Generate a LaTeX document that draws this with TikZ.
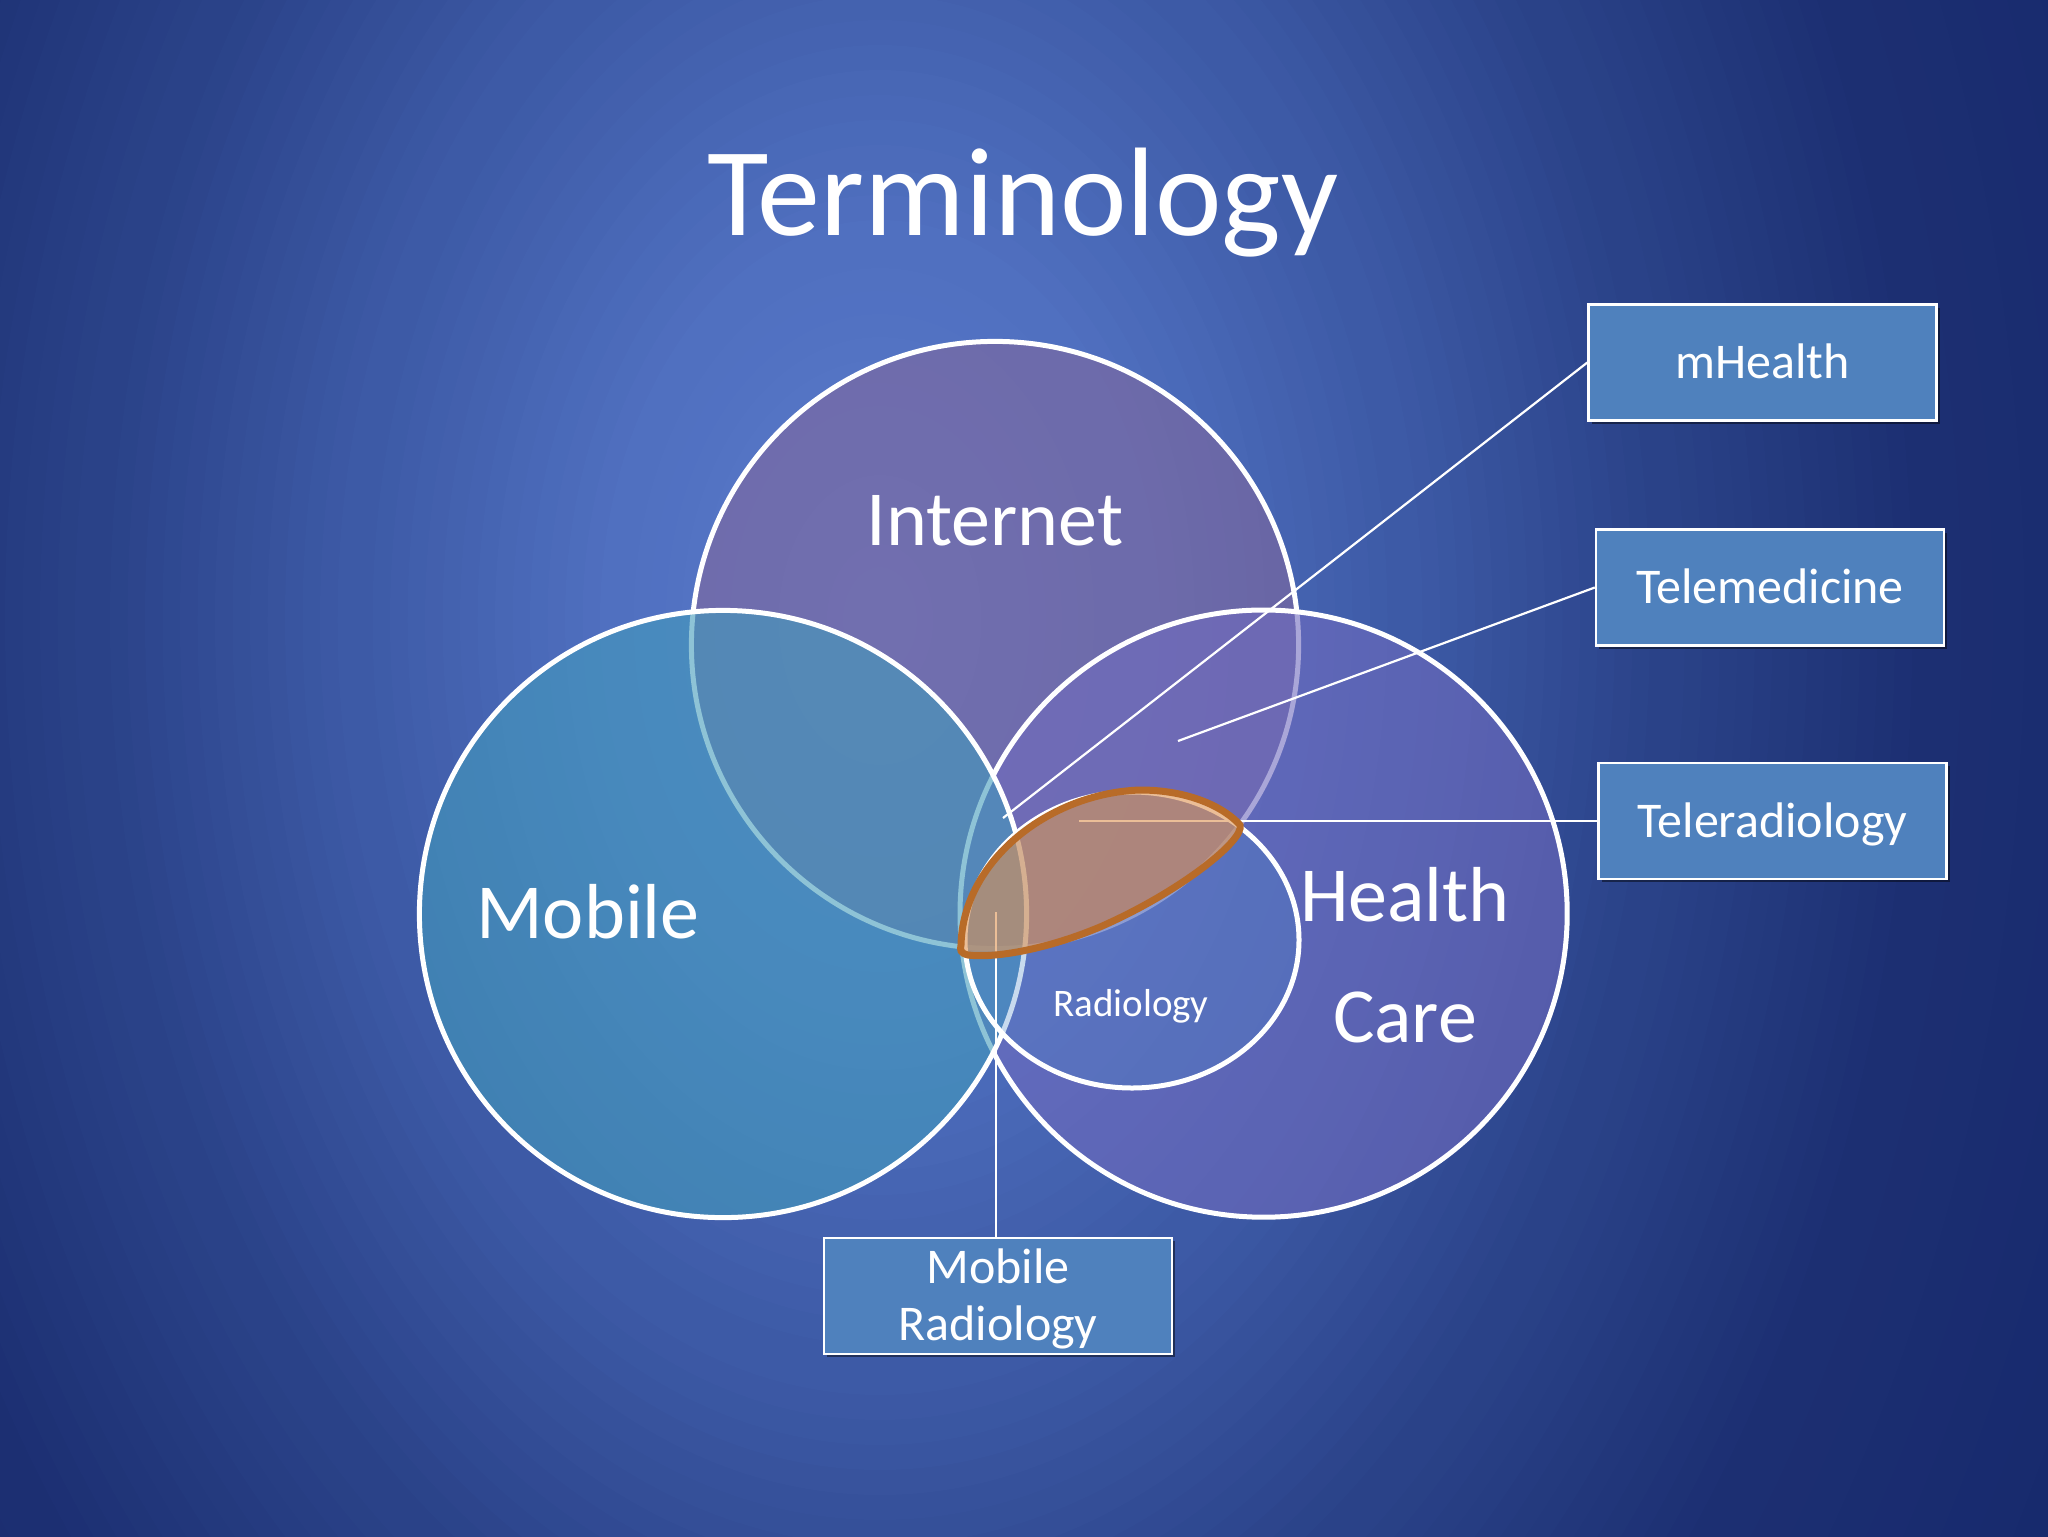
\documentclass[tikz,border=0pt]{standalone}
\usepackage{fontspec}
\setmainfont{Carlito}
\usetikzlibrary{shadows}
\definecolor{bgA}{HTML}{5A7ACB}
\definecolor{bgB}{HTML}{5070C0}
\definecolor{bgC}{HTML}{3D5AA6}
\definecolor{bgE}{HTML}{2A4288}
\definecolor{bgF}{HTML}{1C2F72}
\definecolor{bgG}{HTML}{14266A}
\definecolor{cInt}{HTML}{81689D}
\definecolor{cHC}{HTML}{706BBE}
\definecolor{cMob}{HTML}{439BBC}
\definecolor{cRad}{HTML}{4A86C8}
\definecolor{cLeaf}{HTML}{DF9353}
\definecolor{cLeafLine}{HTML}{B86B28}
\definecolor{cBox}{HTML}{4F81BD}
% concentric elliptic bands: #1 outer t, #2 inner t, #3 outer colour, #4 inner colour
\newcommand\bggradseg[4]{%
  \foreach \j in {0,...,14}{%
    \pgfmathsetmacro\gtx{(#1-(#1-#2)*\j/15)*525}%
    \pgfmathsetmacro\gty{(#1-(#1-#2)*\j/15)*750}%
    \pgfmathsetmacro\gpc{100*\j/14}%
    \fill[#4!\gpc!#3] (880,620) ellipse [x radius=\gtx pt, y radius=\gty pt];
  }}
\begin{document}
\begin{tikzpicture}[x=0.5pt,y=-0.5pt,
  circ/.style={draw=white, line width=2.5pt, fill opacity=0.6},
  conn/.style={draw=white, line width=1.1pt},
  box/.style={draw=white, line width=1.2pt, fill=cBox, minimum width=174pt, minimum height=58pt,
    inner sep=0pt, text=white, font=\fontsize{25}{28.5}\selectfont, text height=16.1pt, text depth=0pt,
    drop shadow={shadow xshift=1.5pt, shadow yshift=-1.5pt, opacity=0.45, fill=black}},
  big/.style={text=white, font=\fontsize{39}{44}\selectfont, anchor=base, inner sep=0pt},
  lbl/.style={text=white, font=\fontsize{25}{28.5}\selectfont, anchor=base, inner sep=0pt}]
\useasboundingbox (0,0) rectangle (2048,1536);
\begin{scope}
  \clip (0,0) rectangle (2048,1536);
  \fill[bgG] (0,0) rectangle (2048,1536);
  \bggradseg{1.45}{1.0}{bgG}{bgF}
  \bggradseg{1.0}{0.75}{bgF}{bgE}
  \bggradseg{0.75}{0.5}{bgE}{bgC}
  \bggradseg{0.5}{0.25}{bgC}{bgB}
  \bggradseg{0.25}{0.02}{bgB}{bgA}
\end{scope}
% circles
\path[circ, fill=cInt] (995,645) circle [radius=151.8pt];
\path[circ, fill=cHC] (1263.6,913.6) circle [radius=151.8pt];
\path[circ, fill=cMob] (723,914) circle [radius=151.8pt];
\path[circ, fill=cRad, fill opacity=0.3] (1132,940) ellipse [x radius=83.5pt, y radius=74pt];
% boxes
\node[box] (mh) at (1762.5,362.5) {mHealth};
\node[box] (tm) at (1770,587.5) {Telemedicine};
\node[box] (tr) at (1772.5,821) {Teleradiology};
\node[box, text height=0pt] (mr) at (998,1296) {};
% connector ends
\coordinate (pMH) at (1003,818);
\coordinate (pTM) at (1178,741);
\coordinate (pTR) at (1079,821);
\coordinate (pMR) at (996,912);
\draw[conn] (mh.west) -- (pMH);
\draw[conn] (tm.west) -- (pTM);
\draw[conn] (tr.west) -- (pTR);
\draw[conn] (mr.north -| pMR) -- (pMR);
% leaf
\path[draw=cLeafLine, line width=3.5pt, fill=cLeaf, fill opacity=0.6]
  (961,945) .. controls (963,860) and (1050,793) .. (1140,790)
  .. controls (1190,790) and (1225,808) .. (1240,825)
  .. controls (1245,840) and (1180,892) .. (1100,927)
  .. controls (1040,952) and (990,958) .. (968,955)
  .. controls (960,953) and (960,950) .. cycle;
% texts
\node[text=white, font=\fontsize{63}{70}\selectfont, anchor=base, inner sep=0pt] (title) at (1023,235) {Terminology};
\node[big] (tInt) at (995,545) {Internet};
\node[big] (tMob) at (588,938) {Mobile};
\node[big] (tHea) at (1405,921) {Health};
\node[big] (tCare) at (1405,1042) {Care};
\node[text=white, font=\fontsize{19.5}{22}\selectfont, anchor=base, inner sep=0pt] (tRad) at (1131,1016) {Radiology};
\node[lbl] (mr1) at (998,1283) {Mobile};
\node[lbl] (mr2) at (998,1340) {Radiology};
\end{tikzpicture}
\end{document}
